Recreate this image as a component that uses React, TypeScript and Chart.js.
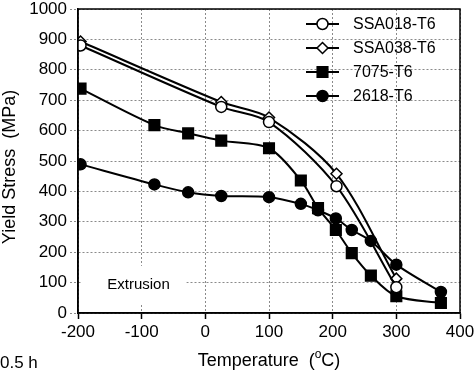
import React, { useEffect, useRef } from "react";
import { Chart, registerables } from "chart.js";

Chart.register(...registerables);

const ssaTemps = [-196, 25, 100, 206, 300];
const ssa018 = [880, 678, 628, 417, 85];
const ssa038 = [893, 694, 643, 458, 113];
const alloyTemps = [-196, -80, -27, 25, 100, 150, 177, 205, 230, 260, 300, 370];
const a7075 = [738, 618, 591, 567, 542, 436, 345, 273, 197, 123, 55, 33];
const a2618 = [489, 423, 397, 385, 381, 359, 338, 311, 273, 237, 159, 69];

const seriesNames = ["SSA018-T6", "SSA038-T6", "7075-T6", "2618-T6"];
const xTitle = "Temperature  (";
const yTitle = "Yield Stress  (MPa)";
const noteText = "Extrusion";
const cornerText = "0.5 h";

const FONT = "'Liberation Sans', Arial, sans-serif";

function pts(xs: number[], ys: number[]) {
  return xs.map((x, i) => ({ x, y: ys[i] }));
}

function drawMarker(ctx: CanvasRenderingContext2D, style: string, fill: string, r: number, x: number, y: number) {
  ctx.save();
  ctx.beginPath();
  if (style === "circle") {
    ctx.arc(x, y, r, 0, Math.PI * 2);
  } else if (style === "rect") {
    const s = r * Math.SQRT1_2;
    ctx.rect(x - s, y - s, 2 * s, 2 * s);
  } else if (style === "rectRot") {
    ctx.moveTo(x, y - r);
    ctx.lineTo(x + r, y);
    ctx.lineTo(x, y + r);
    ctx.lineTo(x - r, y);
    ctx.closePath();
  }
  ctx.fillStyle = fill;
  ctx.fill();
  ctx.lineWidth = 1.5;
  ctx.strokeStyle = "#000";
  ctx.stroke();
  ctx.restore();
}

export default function App() {
  const ref = useRef<HTMLCanvasElement | null>(null);

  useEffect(() => {
    document.body.style.margin = "0";
    const canvas = ref.current!;
    const markerDefs = [
      { style: "circle", fill: "#fff", r: 5.5 },
      { style: "rectRot", fill: "#fff", r: 5.5 },
      { style: "rect", fill: "#000", r: 7.5 },
      { style: "circle", fill: "#000", r: 5.5 },
    ];
    const dataSets = [pts(ssaTemps, ssa018), pts(ssaTemps, ssa038), pts(alloyTemps, a7075), pts(alloyTemps, a2618)];

    const decor = {
      id: "decor",
      beforeDraw(chart: any) {
        const ctx = chart.ctx as CanvasRenderingContext2D;
        ctx.save();
        ctx.fillStyle = "#fff";
        ctx.fillRect(0, 0, chart.width, chart.height);
        ctx.restore();
      },
      beforeDatasetsDraw(chart: any) {
        const ctx = chart.ctx as CanvasRenderingContext2D;
        const xs = chart.scales.x;
        const ys = chart.scales.y;
        ctx.save();
        ctx.fillStyle = "#fff";
        ctx.fillRect(xs.getPixelForValue(-195), ys.getPixelForValue(155), xs.getPixelForValue(-30) - xs.getPixelForValue(-195), ys.getPixelForValue(32) - ys.getPixelForValue(155));
        ctx.fillStyle = "#000";
        ctx.font = `15px ${FONT}`;
        ctx.textAlign = "center";
        ctx.textBaseline = "middle";
        ctx.fillText(noteText, xs.getPixelForValue(-105), ys.getPixelForValue(94));
        ctx.restore();
      },
      afterDraw(chart: any) {
        const ctx = chart.ctx as CanvasRenderingContext2D;
        const a = chart.chartArea;
        ctx.save();
        ctx.strokeStyle = "#000";
        ctx.lineWidth = 1.5;
        ctx.strokeRect(a.left, a.top, a.right - a.left, a.bottom - a.top);
        // legend
        ctx.font = `16px ${FONT}`;
        ctx.textBaseline = "middle";
        ctx.textAlign = "left";
        const ly = [24, 48, 72, 96];
        seriesNames.forEach((name, i) => {
          ctx.beginPath();
          ctx.moveTo(306, ly[i]);
          ctx.lineTo(339, ly[i]);
          ctx.lineWidth = 2;
          ctx.strokeStyle = "#000";
          ctx.stroke();
          const m = markerDefs[i];
          drawMarker(ctx, m.style, m.fill, m.r, 322.5, ly[i]);
          ctx.fillStyle = "#000";
          ctx.fillText(name, 353, ly[i] + 1);
        });
        // x title
        ctx.font = `18px ${FONT}`;
        const w1 = ctx.measureText(xTitle).width;
        ctx.font = `12px ${FONT}`;
        const wo = ctx.measureText("o").width;
        ctx.font = `18px ${FONT}`;
        const w2 = ctx.measureText("C)").width;
        const total = w1 + wo + w2;
        const x0 = (a.left + a.right) / 2 - total / 2;
        const by = 366;
        ctx.textBaseline = "alphabetic";
        ctx.fillText(xTitle, x0, by);
        ctx.font = `12px ${FONT}`;
        ctx.fillText("o", x0 + w1, by - 8);
        ctx.font = `18px ${FONT}`;
        ctx.fillText("C)", x0 + w1 + wo, by);
        // corner text
        ctx.font = `17px ${FONT}`;
        ctx.fillText(cornerText, 0, 368);
        // y title
        ctx.translate(15, (a.top + a.bottom) / 2 + 6);
        ctx.rotate(-Math.PI / 2);
        ctx.textAlign = "center";
        ctx.font = `18px ${FONT}`;
        ctx.fillText(yTitle, 0, 0);
        ctx.restore();
      },
    };

    const chart = new Chart(canvas, {
      type: "line",
      data: {
        datasets: dataSets.map((d, i) => ({
          label: seriesNames[i],
          data: d,
          borderColor: "#000",
          borderWidth: 2,
          pointStyle: markerDefs[i].style as any,
          pointRadius: markerDefs[i].r,
          pointBackgroundColor: markerDefs[i].fill,
          pointBorderColor: "#000",
          pointBorderWidth: 1.5,
          tension: 0.3,
          fill: false,
        })),
      },
      options: {
        responsive: false,
        animation: false,
        devicePixelRatio: 1,
        layout: { padding: { top: 5, right: 14, left: 0, bottom: 0 } },
        plugins: { legend: { display: false }, tooltip: { enabled: false } },
        scales: {
          x: {
            type: "linear",
            min: -200,
            max: 400,
            ticks: {
              stepSize: 100,
              color: "#000",
              font: { family: FONT, size: 17 },
              padding: 3,
              maxRotation: 0,
              callback: (v: any) => String(v),
            },
            grid: {
              color: "#8a8a8a",
              lineWidth: 1,
              tickLength: 6,
              tickColor: "#000",
              tickWidth: 1.5,
              tickBorderDash: [],
            } as any,
            border: { color: "#000", width: 1.5, dash: [2, 2] } as any,
            afterFit(scale: any) {
              scale.height = 58;
              scale.paddingLeft = 0;
              scale.paddingRight = 0;
            },
          } as any,
          y: {
            type: "linear",
            min: 0,
            max: 1000,
            ticks: {
              stepSize: 100,
              color: "#000",
              font: { family: FONT, size: 17 },
              padding: 3,
              callback: (v: any) => String(v),
            },
            grid: {
              color: "#8a8a8a",
              lineWidth: 1,
              tickLength: 8,
              tickColor: "#8a8a8a",
              tickBorderDash: [2, 2],
            } as any,
            border: { color: "#000", width: 1.5, dash: [2, 2] } as any,
            afterFit(scale: any) {
              scale.width = 78;
              scale.paddingTop = 0;
              scale.paddingBottom = 0;
            },
          } as any,
        },
      },
      plugins: [decor],
    });
    return () => chart.destroy();
  }, []);

  return (
    <div style={{ position: "fixed", left: 0, top: 0, width: 474, height: 371 }}>
      <canvas ref={ref} width={474} height={371} style={{ width: 474, height: 371 }} />
    </div>
  );
}
